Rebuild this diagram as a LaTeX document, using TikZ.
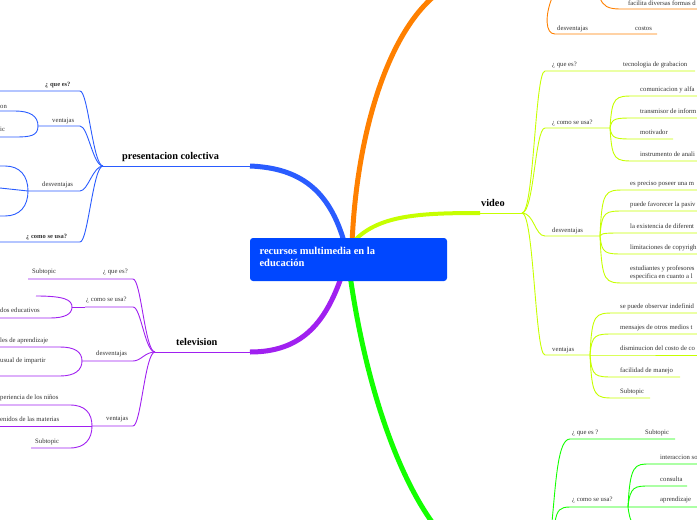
\documentclass[tikz,border=0pt]{standalone}
\usepackage{fontspec}
\setmainfont{Liberation Serif}
\definecolor{cblue}{HTML}{0047FF}
\definecolor{lblue}{HTML}{2A5CFF}
\definecolor{lpur}{HTML}{A020F0}
\begin{document}
\begin{tikzpicture}[x=1pt,y=-1pt,
  t/.style={font=\fontsize{6.7}{7.5}\selectfont,anchor=base west,inner sep=0,text=black!80},
  tb/.style={t,font=\fontsize{6.5}{7.5}\selectfont\bfseries},
  hd/.style={font=\fontsize{10.3}{11}\selectfont\bfseries,anchor=base west,inner sep=0},
  bl/.style={draw=lblue,line width=0.9pt},
  pu/.style={draw=lpur,line width=0.9pt},
  ye/.style={draw=lime!90!yellow,line width=0.9pt},
  gr/.style={draw=green!90!lime,line width=0.9pt},
  or/.style={draw=orange,line width=0.9pt}]
\useasboundingbox (0,0) rectangle (697,520);
\clip (0,0) rectangle (697,520);
% main branches
\draw[or,line width=5pt] (352,245) .. controls (356,140) and (385,40) .. (432,-2);
\draw[bl,line width=5pt] (345,245) .. controls (330,190) and (300,168) .. (250,166);
\draw[bl] (250,166) -- (103,166);
\draw[pu,line width=5pt] (342,275) .. controls (325,325) and (300,352) .. (250,352);
\draw[pu] (250,352) -- (155,352);
\draw[ye,line width=4pt] (355,240) .. controls (380,215) and (420,213) .. (480,213);
\draw[ye] (480,213) -- (522,213);
\draw[gr,line width=5pt] (350,275) .. controls (365,380) and (395,470) .. (432,522);
% central
\node[fill=cblue,rounded corners=3pt,minimum width=197pt,minimum height=43pt] (c) at (348.5,259.5) {};
\node[font=\fontsize{10.5}{12}\selectfont\bfseries,text=white,align=left,anchor=north west] (ct) at (256,244) {recursos multimedia en la\\educación};
% headings
\node[hd] (pc) at (122,159) {presentacion colectiva};
\node[hd] (tv) at (176,345) {television};
\node[hd] (vd) at (481,206) {video};
% presentacion colectiva
\coordinate (ph) at (103,166);
\draw[bl] (ph) .. controls +(-10,0) and +(8,0) .. (80,91) -- (0,91);
\draw[bl] (ph) .. controls +(-10,0) and +(8,0) .. (80,126) -- (38,126);
\draw[bl] (ph) .. controls +(-10,0) and +(8,0) .. (80,191) -- (28,191);
\draw[bl] (ph) .. controls +(-10,0) and +(8,0) .. (80,242) -- (0,242);
\draw[bl] (38,126) .. controls (38,116) and (30,111) .. (15,111) -- (0,111);
\draw[bl] (38,126) .. controls (38,136) and (30,137) .. (15,137) -- (0,137);
\draw[bl] (28,191) .. controls (28,176) and (20,166) .. (5,166) -- (0,166);
\draw[bl] (28,191) -- (0,188);
\draw[bl] (28,191) .. controls (28,206) and (20,216) .. (5,216) -- (0,216);
\node[tb] at (45,86) {¿ que es?};
\node[t] at (52,122) {ventajas};
\node[t] at (42,186) {desventajas};
\node[tb] at (26,238) {¿ como se usa?};
\node[t] at (0,108) {on};
\node[t] at (0,131) {ic};
% television
\coordinate (th) at (155,352);
\draw[pu] (th) .. controls +(-10,0) and +(8,0) .. (133,279) -- (28,279);
\draw[pu] (th) .. controls +(-10,0) and +(8,0) .. (133,307) -- (85,307);
\draw[pu] (th) .. controls +(-10,0) and +(8,0) .. (133,361) -- (82,361);
\draw[pu] (th) .. controls +(-10,0) and +(8,0) .. (133,426) -- (92,426);
\draw[pu] (72,307) .. controls (72,300) and (65,296) .. (36,296);
\draw[pu] (72,307) .. controls (72,314) and (65,318) .. (50,318) -- (0,318);
\draw[pu] (85,307) -- (72,307);
\draw[pu] (82,361) .. controls (82,352) and (75,347) .. (60,347) -- (0,347);
\draw[pu] (82,361) .. controls (82,370) and (75,376) .. (60,376) -- (0,376);
\draw[pu] (92,426) .. controls (92,413) and (85,405) .. (70,405) -- (0,405);
\draw[pu] (92,426) -- (0,426);
\draw[pu] (92,426) .. controls (92,439) and (85,448) .. (70,448) -- (31,448);
\node[t] at (103,273) {¿ que es?};
\node[t] at (32,273) {Subtopic};
\node[t] at (86,301) {¿ como se usa?};
\node[t] at (96,355) {desventajas};
\node[t] at (106,420) {ventajas};
\node[t] at (0,312) {dos educativos};
\node[t] at (0,342) {les de aprendizaje};
\node[t] at (0,362) {usual de impartir};
\node[t] at (0,399) {periencia de los niños};
\node[t] at (0,421) {enidos de las materias};
\node[t] at (35,443) {Subtopic};
% orange
\draw[or] (552,-2) .. controls (545,15) and (545,34) .. (555,34) -- (657,34);
\draw[or] (600,-2) .. controls (603,6) and (608,9) .. (620,9) -- (697,9);
\node[t] at (557,30) {desventajas};
\node[t] at (635,30) {costos};
\node[t] at (628,5) {facilita diversas formas d};
% video
\coordinate (vh) at (522,213);
\draw[ye] (vh) .. controls +(12,0) and +(-10,0) .. (545,71) -- (695,71);
\draw[ye] (vh) .. controls +(12,0) and +(-10,0) .. (545,128) -- (610,128);
\draw[ye] (vh) .. controls +(12,0) and +(-10,0) .. (545,236) -- (600,236);
\draw[ye] (vh) .. controls +(12,0) and +(-10,0) .. (545,355) -- (590,355);
\node[t] at (552,66) {¿ que es?};
\node[t] at (623,66) {tecnologia de grabacion};
\node[t] at (552,124) {¿ como se usa?};
\node[t] at (552,232) {desventajas};
\node[t] at (552,351) {ventajas};
\foreach \y/\e in {96/697,118/697,139/673,161/697}
  \draw[ye] (610,128) .. controls (612,\y) and (615,\y) .. (635,\y) -- (\e,\y);
\node[t] at (640,91) {comunicacion y alfa};
\node[t] at (640,113) {transmisor de inform};
\node[t] at (640,134) {motivador};
\node[t] at (640,156) {instrumento de anali};
\foreach \y in {190,211,233,254,283}
  \draw[ye] (600,236) .. controls (602,\y) and (605,\y) .. (625,\y) -- (697,\y);
\node[t] at (630,185) {es preciso poseer una m};
\node[t] at (630,206) {puede favorecer la pasiv};
\node[t] at (630,228) {la existencia de diferent};
\node[t] at (630,249) {limitaciones de copyrigh};
\node[t,align=left,anchor=north west] at (630,266) {estudiantes y profesores\\especifica en cuanto a l};
\foreach \y/\e in {313/697,334/697,355/697,377/680,398/650}
  \draw[ye] (590,355) .. controls (592,\y) and (595,\y) .. (615,\y) -- (\e,\y);
\node[t] at (620,308) {se puede observar indefinid};
\node[t] at (620,329) {mensajes de otros medios t};
\node[t] at (620,350) {disminucion del costo de co};
\node[t] at (620,372) {facilidad de manejo};
\node[t] at (620,393) {Subtopic};
% green
\draw[gr] (552,522) .. controls (556,480) and (558,439) .. (570,439) -- (675,439);
\draw[gr] (555,522) .. controls (557,510) and (560,507) .. (570,507) -- (697,507);
\node[t] at (572,434) {¿ que es ?};
\node[t] at (645,434) {Subtopic};
\node[t] at (572,501) {¿ como se usa?};
\draw[gr] (628,507) .. controls (630,464) and (635,464) .. (650,464) -- (697,464);
\draw[gr] (628,507) .. controls (630,486) and (635,486) .. (650,486) -- (687,486);
\draw[gr] (628,507) .. controls (630,522) and (632,525) .. (640,525);
\node[t] at (660,459) {interaccion so};
\node[t] at (660,481) {consulta};
\node[t] at (660,501) {aprendizaje};
\end{tikzpicture}
\end{document}
